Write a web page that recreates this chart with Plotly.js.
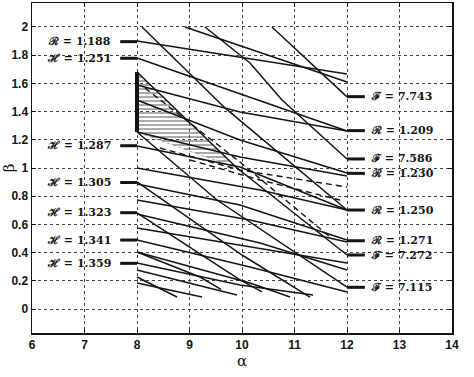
<!DOCTYPE html>
<html><head><meta charset="utf-8">
<script src="https://cdn.plot.ly/plotly-3.0.1.min.js"></script>
<style>html,body{margin:0;padding:0;background:#fff}</style></head>
<body><div id="chart" style="width:474px;height:377px"></div>
<script>
// steep F-family curves (alpha, beta)
const fAlpha = [
  [10.57, 12],
  [9.295, 10.152, 10.762, 12],
  [8.095, 9.676, 12],
  [8, 9.905, 12],
  [8, 9.524, 12],
  [8, 10.0, 11.295],
  [8, 9.962, 10.381],
  [8, 9.2, 9.6]
];
const fBeta = [
  [2.0, 1.504],
  [2.0, 1.745, 1.482, 1.064],
  [2.0, 1.426, 0.702],
  [1.681, 1.0, 0.383],
  [1.255, 0.773, 0.156],
  [0.901, 0.383, 0.085],
  [0.681, 0.206, 0.121],
  [0.404, 0.227, 0.140]
];
// gentle H / R family curves
const gAlpha = [
  [8, 12],
  [8.914, 12],
  [8, 12],
  [8, 9.962, 12],
  [8, 9.962, 12],
  [8, 9.962, 12],
  [8, 9.962, 12],
  [8, 10.343, 12],
  [8, 9.962, 12],
  [8, 10.152, 12],
  [8, 10.152, 12],
  [8, 10.343, 12],
  [8, 10.152, 12],
  [8, 10.152, 10.914],
  [8, 9.962, 11.352],
  [8, 9.01, 9.905],
  [8, 8.762],
  [8, 9.238]
];
const gBeta = [
  [1.901, 1.667],
  [2.0, 1.610],
  [1.780, 1.262],
  [1.589, 1.397, 1.262],
  [1.482, 1.199, 0.965],
  [1.255, 1.078, 0.943],
  [1.156, 1.007, 0.702],
  [1.0, 0.844, 0.702],
  [0.887, 0.738, 0.489],
  [0.773, 0.631, 0.475],
  [0.574, 0.440, 0.326],
  [0.674, 0.468, 0.277],
  [0.489, 0.298, 0.121],
  [0.404, 0.184, 0.085],
  [0.326, 0.170, 0.099],
  [0.277, 0.184, 0.099],
  [0.227, 0.085],
  [0.184, 0.085]
];
// dashed curves
const dAlpha = [
  [8.438, 9.962, 12],
  [8.152, 9.962, 11.676],
  [9.01, 10.343, 11.867]
];
const dBeta = [
  [1.142, 0.986, 0.865],
  [1.567, 1.042, 0.511],
  [1.057, 0.915, 0.773]
];
// hatched feasible region
const hatchAlpha = [8, 9.905, 8, 8];
const hatchBeta = [1.681, 1.0, 1.255, 1.681];
const edgeAlpha = [8, 8];
const edgeBeta = [1.255, 1.681];
// labels
const leftLabels = ['ℛ = 1.188', 'ℋ = 1.251', 'ℋ = 1.287', 'ℋ = 1.305', 'ℋ = 1.323', 'ℋ = 1.341', 'ℋ = 1.359'];
const leftBeta = [1.896, 1.778, 1.158, 0.897, 0.683, 0.489, 0.324];
const rightLabels = ['ℱ = 7.743', 'ℛ = 1.209', 'ℱ = 7.586', 'ℛ = 1.230', 'ℛ = 1.250', 'ℛ = 1.271', 'ℱ = 7.272', 'ℱ = 7.115'];
const rightBeta = [1.506, 1.265, 1.064, 0.962, 0.702, 0.484, 0.383, 0.154];
const xTicks = [6, 7, 8, 9, 10, 11, 12, 13, 14];
const yTicks = [0, 0.2, 0.4, 0.6, 0.8, 1, 1.2, 1.4, 1.6, 1.8, 2];
const yTickText = ['0', '0.2', '0.4', '0.6', '0.8', '1', '1.2', '1.4', '1.6', '1.8', '2'];

const ink = '#141414';
const traces = [];
traces.push({x: hatchAlpha, y: hatchBeta, mode: 'lines', fill: 'toself',
  fillcolor: 'rgba(255,255,255,0)',
  fillpattern: {shape: '-', fgcolor: '#555', bgcolor: 'rgba(255,255,255,0)', size: 4, solidity: 0.25},
  line: {color: '#666', width: 0.6, dash: 'dot'}, hoverinfo: 'skip'});
fAlpha.forEach((a, i) => traces.push({x: a, y: fBeta[i], mode: 'lines', line: {color: ink, width: 1.5}}));
gAlpha.forEach((a, i) => traces.push({x: a, y: gBeta[i], mode: 'lines', line: {color: ink, width: 1.5}}));
dAlpha.forEach((a, i) => traces.push({x: a, y: dBeta[i], mode: 'lines', line: {color: ink, width: 1.4, dash: '6px,4px'}}));
traces.push({x: edgeAlpha, y: edgeBeta, mode: 'lines', line: {color: ink, width: 4}});
leftBeta.forEach(b => traces.push({x: [7.68, 8.0], y: [b, b], mode: 'lines', line: {color: ink, width: 3}}));
rightBeta.forEach(b => traces.push({x: [12.0, 12.34], y: [b, b], mode: 'lines', line: {color: ink, width: 3}}));

const labelFont = {family: 'DejaVu Serif, serif', size: 11, color: ink, weight: 'bold'};
const annotations = [];
leftLabels.forEach((t, i) => annotations.push({x: 7.55, y: leftBeta[i], xref: 'x', yref: 'y', text: t,
  showarrow: false, xanchor: 'right', yanchor: 'middle', font: labelFont}));
rightLabels.forEach((t, i) => annotations.push({x: 12.42, y: rightBeta[i], xref: 'x', yref: 'y', text: t,
  showarrow: false, xanchor: 'left', yanchor: 'middle', font: labelFont}));

const tickFont = {family: 'Liberation Sans, Arial, sans-serif', size: 12, color: ink, weight: 'bold'};
const layout = {
  width: 474, height: 377,
  margin: {l: 32, r: 22, t: 3, b: 44},
  paper_bgcolor: '#fff', plot_bgcolor: '#fff',
  showlegend: false,
  xaxis: {range: [6, 14], tickvals: xTicks, ticktext: xTicks.map(String), tickfont: tickFont,
    showgrid: true, gridcolor: '#444', griddash: 'dot', gridwidth: 1, zeroline: false,
    showline: true, linecolor: ink, linewidth: 1.5, mirror: 'ticks', ticks: 'inside', ticklen: 4, tickcolor: ink,
    title: {text: 'α', font: {family: 'DejaVu Serif, serif', size: 15, color: ink}, standoff: 4}},
  yaxis: {range: [-0.17, 2.17], tickvals: yTicks, ticktext: yTickText, tickfont: tickFont,
    showgrid: true, gridcolor: '#444', griddash: 'dot', gridwidth: 1, zeroline: false,
    showline: true, linecolor: ink, linewidth: 1.5, mirror: 'ticks', ticks: 'inside', ticklen: 4, tickcolor: ink,
    title: {text: 'β', font: {family: 'DejaVu Serif, serif', size: 15, color: ink}, standoff: 2}},
  annotations: annotations
};
Plotly.newPlot('chart', traces, layout, {staticPlot: true, displayModeBar: false});
</script>
</body></html>
